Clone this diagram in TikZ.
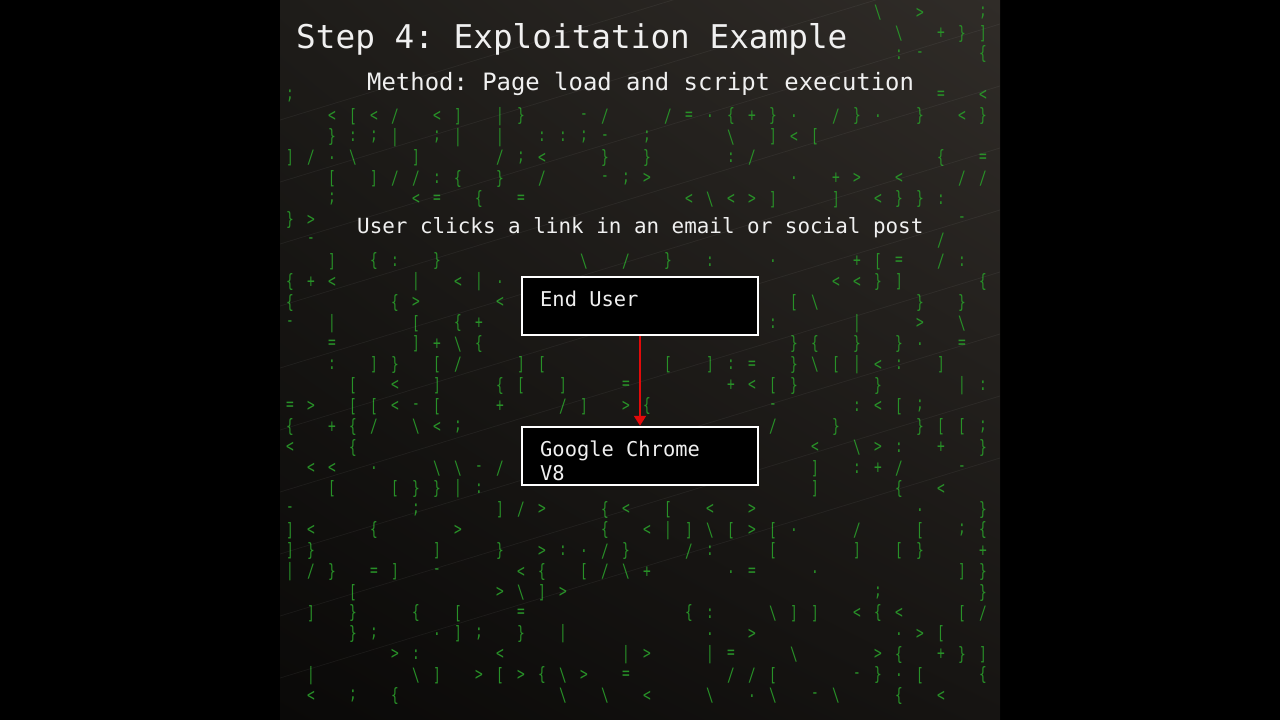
\documentclass[tikz,border=0pt]{standalone}
\usepackage{fontspec}
\usetikzlibrary{arrows.meta,shadings}
\newfontfamily\monofam{DejaVu Sans Mono}
\definecolor{matrixgreen}{RGB}{40,145,40}
\definecolor{panelTL}{RGB}{30,28,25}
\definecolor{panelTR}{RGB}{48,44,40}
\definecolor{panelBL}{RGB}{10,9,8}
\definecolor{panelBR}{RGB}{22,20,18}
\definecolor{arrowred}{RGB}{226,10,10}
\definecolor{txt}{RGB}{240,240,240}
\newcommand\bgglyph[1]{\ifcase#1 \{\or\}\or[\or]\or<\or>\or/\or\textbackslash\or+\or-\or:\or;\or|\or=\or.\or\{\or]\or<\or/\or\}\or[\else\fi}
\tikzset{
  bgch/.style={text=matrixgreen, font=\monofam\fontsize{16}{16}\selectfont, inner sep=0pt, xscale=0.8, yscale=1.15},
  titletext/.style={text=txt, font=\monofam\fontsize{32.7}{36}\selectfont, inner sep=0pt, anchor=base west},
  subtext/.style={text=txt, font=\monofam\fontsize{23.9}{28}\selectfont, inner sep=0pt, anchor=base west},
  bodytext/.style={text=txt, font=\monofam\fontsize{20.9}{24}\selectfont, inner sep=0pt, anchor=base west},
  boxtext/.style={text=txt, font=\monofam\fontsize{20.4}{24}\selectfont, inner sep=0pt, anchor=base west, align=left},
  flowbox/.style={draw=white, line width=2.5pt, fill=black, minimum width=236, minimum height=58, inner sep=0pt},
  flowarrow/.style={draw=arrowred, line width=2pt, -{Triangle[length=10pt,width=12pt]}},
}
\begin{document}
\frenchspacing
\begin{tikzpicture}[x=1pt,y=-1pt]
\useasboundingbox (0,0) rectangle (1280,720);
\fill[black] (0,0) rectangle (1280,720);
\shade[upper left=panelTL, upper right=panelTR, lower left=panelBL, lower right=panelBR] (280,0) rectangle (1000,720);
\begin{scope}
\clip (280,0) rectangle (1000,720);
\pgfmathsetseed{4711}
\foreach \i in {0,...,33} {
  \foreach \j in {0,...,33} {
    \pgfmathrandominteger{\r}{0}{22}
    \pgfmathrandom{0.45,1}
    \let\op\pgfmathresult
    \pgfmathsetmacro\gx{290+21*\i}
    \pgfmathsetmacro\gy{13+20.7*\j}
    \pgfmathparse{or(or(and(and(\gx>286,\gx<858),and(\gy>12,\gy<66)),and(and(\gx>358,\gx<922),and(\gy>56,\gy<106))),or(and(and(\gx>348,\gx<932),and(\gy>203,\gy<250)),and(and(\gx>510,\gx<770),or(and(\gy>262,\gy<350),and(\gy>412,\gy<500)))))}
    \ifdim\pgfmathresult pt<0.5pt
      \ifnum\r<21
        \node[bgch, opacity=\op] (c-\i-\j) at (\gx, \gy) {\bgglyph{\r}};
      \fi
    \fi
  }
}
\foreach \k in {0,...,9} {
  \draw[white, opacity=0.05, line width=0.8pt] (280,120+62*\k) -- (1000,-100+62*\k);
}
\end{scope}
\node[titletext] (title) at (296,48) {Step 4: Exploitation Example};
\node[subtext] (method) at (367,90) {Method: Page load and script execution};
\node[bodytext] (clicks) at (357,233) {User clicks a link in an email or social post};
\node[flowbox] (enduser) at (640,306) {};
\node[flowbox] (chrome) at (640,456) {};
\node[boxtext] (enduserlabel) at (540,306) {End User};
\node[boxtext] (chromelabel) at (540,480) {Google Chrome\\V8};
\draw[flowarrow] (enduser.south) -- (chrome.north);
\end{tikzpicture}
\end{document}
